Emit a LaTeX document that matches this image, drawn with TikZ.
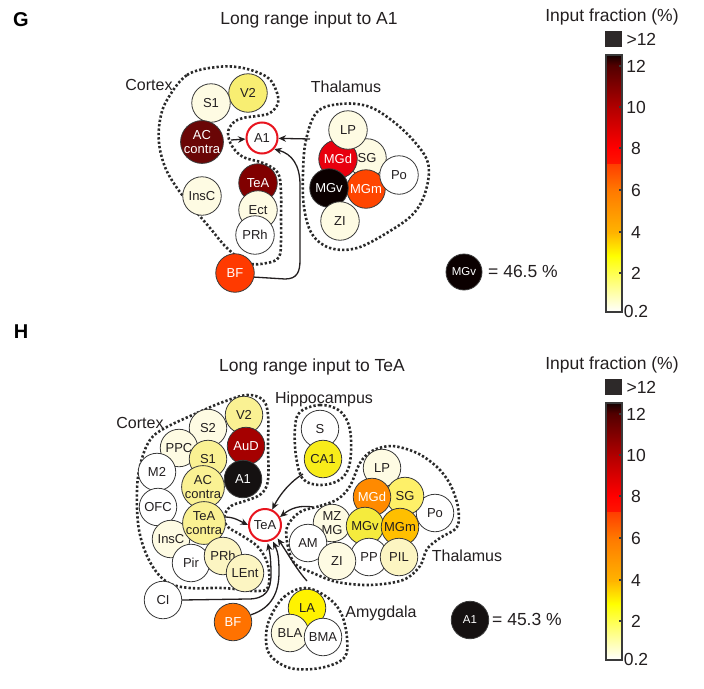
\documentclass[tikz,border=0pt]{standalone}
\usepackage{fontspec}
\setmainfont{Liberation Sans}
\usetikzlibrary{arrows.meta}
\definecolor{txt}{HTML}{231F20}
\definecolor{bord}{HTML}{3A3A3A}
\definecolor{dotc}{HTML}{2A2A2A}
\definecolor{cream}{HTML}{FEFBE3}
\definecolor{paleY}{HTML}{FCF5C2}
\definecolor{lightY}{HTML}{FAF193}
\definecolor{gV2c}{HTML}{F8EE72}
\definecolor{gACcc}{HTML}{6A0606}
\definecolor{gTeAc}{HTML}{800000}
\definecolor{gBFc}{HTML}{FF3A00}
\definecolor{gMGdc}{HTML}{E8000E}
\definecolor{gMGmc}{HTML}{FF4500}
\definecolor{gMGvc}{HTML}{0B0000}
\definecolor{hAuDc}{HTML}{A50000}
\definecolor{hA1c}{HTML}{151111}
\definecolor{hBFc}{HTML}{FF7200}
\definecolor{hCA1c}{HTML}{F8EC1A}
\definecolor{hMGdc}{HTML}{FF8A00}
\definecolor{hSGc}{HTML}{FEF068}
\definecolor{hMGvc}{HTML}{F5EB3D}
\definecolor{hMGmc}{HTML}{FFBF00}
\definecolor{hLAc}{HTML}{FFF200}
\definecolor{overc}{HTML}{2D2929}
\definecolor{tgtred}{HTML}{E8141E}
\newcommand\myNodeFont{\fontsize{13}{14}\selectfont}
\newcommand\myLabFont{\fontsize{16}{18}\selectfont}
\newcommand\myTitleFont{\fontsize{17.5}{20}\selectfont}
\newcommand\mycolorbar[1]{%
  \node[font=\myTitleFont,text=txt] (ttl#1) at (612,17) {Input fraction (\%)};
  \fill[overc] (605,31) rectangle (622,47);
  \node[font=\myTitleFont,text=txt,anchor=west] (over#1) at (623,39) {>12};
  \shade[bottom color=white,top color={rgb,255:red,255;green,255;blue,0}] (606,312) rectangle (622,255.5);
  \shade[bottom color={rgb,255:red,255;green,255;blue,0},top color={rgb,255:red,255;green,180;blue,0}] (606,256) rectangle (622,232.5);
  \shade[bottom color={rgb,255:red,255;green,180;blue,0},top color={rgb,255:red,255;green,120;blue,0}] (606,233) rectangle (622,189.5);
  \shade[bottom color={rgb,255:red,255;green,120;blue,0},top color={rgb,255:red,255;green,60;blue,0}] (606,190) rectangle (622,163);
  \shade[bottom color={rgb,255:red,255;green,20;blue,0},top color={rgb,255:red,255;green,0;blue,0}] (606,163) rectangle (622,147.5);
  \shade[bottom color={rgb,255:red,255;green,0;blue,0},top color={rgb,255:red,176;green,0;blue,0}] (606,148) rectangle (622,106.5);
  \shade[bottom color={rgb,255:red,176;green,0;blue,0},top color={rgb,255:red,80;green,0;blue,0}] (606,107) rectangle (622,64.5);
  \shade[bottom color={rgb,255:red,80;green,0;blue,0},top color={rgb,255:red,20;green,0;blue,0}] (606,65) rectangle (622,55);
  \draw[bord,line width=1.5pt] (606,55) rectangle (622,312);
  \foreach \v/\yy in {12/66,10/107,8/148,6/190,4/232,2/273}{%
    \draw[bord,line width=1.2pt] (619,\yy) -- (622,\yy);
    \node[font=\myTitleFont,text=txt] (tk#1\v) at (636,\yy) {\v};}
  \node[font=\myTitleFont,text=txt] (tk#1z) at (636,311) {0.2};
}
\begin{document}
\begin{tikzpicture}[x=1pt,y=-1pt,
  rg/.style={circle,draw=bord,line width=0.8pt,minimum size=38.5pt,inner sep=0pt,font=\myNodeFont,text=txt,align=center},
  rh/.style={rg,minimum size=37.5pt},
  wt/.style={text=white},
  tgt/.style={circle,draw=tgtred,line width=2pt,fill=white,minimum size=31pt,inner sep=0pt,font=\myNodeFont,text=txt},
  dots/.style={draw=dotc,line width=2.6pt,dash pattern=on 2.3pt off 2.1pt},
  arr/.style={draw=txt,line width=1.3pt,-{Stealth[length=7.5pt,width=6.5pt]}},
  lab/.style={font=\myLabFont,text=txt},
  ttl/.style={font=\myTitleFont,text=txt},
  pan/.style={font=\fontsize{20}{22}\selectfont\bfseries,text=black}]
\useasboundingbox (0,0) rectangle (704,688);
\fill[white] (0,0) rectangle (704,688);

% ================= Panel G =================
\node[pan] (G) at (21,20) {G};
\node[ttl] (gTitle) at (309,20) {Long range input to A1};
\node[lab] (gCortex) at (149,85) {Cortex};
\node[lab] (gThal) at (346,87) {Thalamus};

\draw[dots] plot[smooth cycle,tension=0.6] coordinates {
 (167,100) (187,75) (217,67) (243,68) (267,77) (276,90) (278,103) (270,113)
 (257,116) (243,118) (233,123) (228,133) (232,146) (243,157) (263,163) (278,173)
 (281,193) (281,217) (281,240) (279,257) (267,263) (247,263) (227,248) (210,228)
 (193,208) (177,188) (165,167) (159,143) (160,120)};
\draw[dots] plot[smooth cycle,tension=0.6] coordinates {
 (317,112) (340,104) (367,106) (390,119) (413,140) (428,163) (426,190) (414,213)
 (390,231) (357,248) (330,248) (312,234) (304,207) (303,173) (306,140)};

\node[rg,fill=gV2c] (gV2) at (248,93) {V2};
\node[rg,fill=cream] (gS1) at (211,103) {S1};
\node[rg,fill=gACcc,wt] (gACc) at (202,142) {AC\\contra};
\node[rg,fill=cream] (gInsC) at (202,196) {InsC};
\node[rg,fill=gTeAc,wt] (gTeA) at (258,183) {TeA};
\node[rg,fill=cream] (gEct) at (258,210) {Ect};
\node[rg,fill=white] (gPRh) at (255,235) {PRh};
\node[rg,fill=gBFc,wt] (gBF) at (235,273) {BF};
\node[tgt] (gA1) at (262,138) {A1};

\node[rg,fill=cream] (gSG) at (367,158) {SG};
\node[rg,fill=gMGdc,wt] (gMGd) at (338,159) {MGd};
\node[rg,fill=cream] (gLP) at (348,130) {LP};
\node[rg,fill=gMGmc,wt] (gMGm) at (366,189) {MGm};
\node[rg,fill=white] (gPo) at (399,175) {Po};
\node[rg,fill=gMGvc,wt] (gMGv) at (329,188) {MGv};
\node[rg,fill=cream] (gZI) at (340,221) {ZI};

\coordinate (gacOut) at (231,140);
\coordinate (gthOut) at (310,139);
\draw[arr] (gacOut) -- (gA1);
\draw[arr] (gthOut) -- (gA1);
\draw[arr] (gBF.-12) -- (285,279) .. controls (297,279) and (300,272) .. (300,260) -- (300,185)
  .. controls (300,165) and (292,154) .. (gA1.-42);

\node[rg,fill=gMGvc,wt,minimum size=36pt,font=\fontsize{11.5}{12}\selectfont] (gLeg) at (464,272) {MGv};
\node[ttl,anchor=west,inner sep=0pt] (gLegT) at (488,271) {= 46.5 \%};

\mycolorbar{g}

% ================= Panel H =================
\node[pan] (H) at (21,332) {H};
\node[ttl] (hTitle) at (312,367) {Long range input to TeA};
\node[lab] (hCortex) at (140,423) {Cortex};
\node[lab] (hHip) at (324,399) {Hippocampus};
\node[lab] (hThal) at (467,556) {Thalamus};
\node[lab] (hAmy) at (381,613) {Amygdala};

\draw[dots] plot[smooth cycle,tension=0.6] coordinates {
 (165,428) (197,413) (223,402) (247,395) (263,400) (268,415) (268,447) (268,480)
 (261,494) (245,501) (231,506) (224,517) (228,527) (241,535) (258,547) (268,565)
 (268,587) (256,591) (223,588) (190,588) (167,582) (150,562) (139,530) (137,490)
 (141,462) (150,440)};
\draw[dots] plot[smooth cycle,tension=0.6] coordinates {
 (300,412) (320,405) (340,411) (350,430) (350,462) (341,479) (321,485) (303,479)
 (296,456) (295,428)};
\draw[dots] plot[smooth cycle,tension=0.55] coordinates {
 (300,512) (320,506) (338,499) (350,486) (360,463) (372,451) (392,446) (417,453)
 (437,467) (450,484) (458,507) (457,527) (440,538) (427,549) (420,566) (403,580)
 (370,585) (337,582) (313,573) (295,564) (288,547) (287,527)};
\draw[dots] plot[smooth cycle,tension=0.6] coordinates {
 (270,618) (284,597) (305,588) (327,597) (341,613) (347,638) (344,658) (320,668)
 (290,668) (270,655) (266,637)};

% cortex
\node[rh,fill=lightY] (hV2) at (244,415) {V2};
\node[rh,fill=hAuDc,wt] (hAuD) at (246,446) {AuD};
\node[rh,fill=cream] (hS2) at (208,428) {S2};
\node[rh,fill=cream] (hPPC) at (179,448) {PPC};
\node[rh,fill=lightY] (hS1) at (208,459) {S1};
\node[rh,fill=hA1c,wt] (hA1) at (243,479) {A1};
\node[rh,fill=white] (hM2) at (157,472) {M2};
\node[rh,fill=lightY] (hACc) at (203,487) {AC\\contra};
\node[rh,fill=white] (hOFC) at (158,507) {OFC};
\node[rh,fill=cream] (hInsC) at (171,539) {InsC};
\node[rh,fill=lightY] (hTeAc) at (204,523) {TeA\\contra};
\node[rh,fill=white] (hPir) at (191,563) {Pir};
\node[rh,fill=paleY] (hPRh) at (223,556) {PRh};
\node[rh,fill=paleY] (hLEnt) at (245,573) {LEnt};
\node[rh,fill=white] (hCI) at (163,600) {CI};
\node[rh,fill=hBFc,wt] (hBF) at (233,622) {BF};
\node[tgt,minimum size=32pt] (hTeA) at (265,525) {TeA};
% hippocampus
\node[rh,fill=white] (hS) at (320,429) {S};
\node[rh,fill=hCA1c] (hCA1) at (323,459) {CA1};
% thalamus
\node[rh,fill=cream] (hLP) at (382,468) {LP};
\node[rh,fill=white] (hPo) at (435,513) {Po};
\node[rh,fill=hSGc] (hSG) at (405,496) {SG};
\node[rh,fill=hMGdc,wt] (hMGd) at (372,497) {MGd};
\node[rh,fill=cream] (hMZ) at (332,523) {MZ\\MG};
\node[rh,fill=hMGvc] (hMGv) at (365,526) {MGv};
\node[rh,fill=hMGmc] (hMGm) at (400,527) {MGm};
\node[rh,fill=white] (hAM) at (308,543) {AM};
\node[rh,fill=white] (hPP) at (369,557) {PP};
\node[rh,fill=cream] (hZI) at (337,561) {ZI};
\node[rh,fill=paleY] (hPIL) at (399,557) {PIL};
% amygdala
\node[rh,fill=hLAc] (hLA) at (307,608) {LA};
\node[rh,fill=cream] (hBLA) at (290,633) {BLA};
\node[rh,fill=white] (hBMA) at (323,637) {BMA};

% connectors
\coordinate (htcOut) at (225,517);
\coordinate (hcaOut) at (303,474);
\coordinate (hthOut) at (313,507);
\coordinate (hamOut) at (307,581);
\draw[arr] (htcOut) .. controls (234,517) and (240,521) .. (hTeA.180);
\draw[arr] (hcaOut) .. controls (291,481) and (280,494) .. (hTeA.65);
\draw[arr] (hthOut) .. controls (300,505) and (291,508) .. (hTeA.28);
\draw[arr,shorten >=1.5pt] (hCI.east) -- (248,599) .. controls (266,599) and (271,590) .. (271,574)
  .. controls (271,561) and (270,553) .. (hTeA.-82);
\draw[arr,shorten >=1.5pt] (hBF.22) .. controls (272,608) and (279,592) .. (279,572)
  .. controls (279,558) and (278,552) .. (hTeA.-64);
\draw[arr,shorten >=1.5pt] (hamOut) .. controls (297,570) and (290,557) .. (hTeA.-46);

\node[rh,fill=hA1c,wt,font=\fontsize{11.5}{12}\selectfont] (hLeg) at (470,620) {A1};
\node[ttl,anchor=west,inner sep=0pt] (hLegT) at (492,619) {= 45.3 \%};

\begin{scope}[shift={(0,348)}]
\mycolorbar{h}
\end{scope}
\end{tikzpicture}
\end{document}
